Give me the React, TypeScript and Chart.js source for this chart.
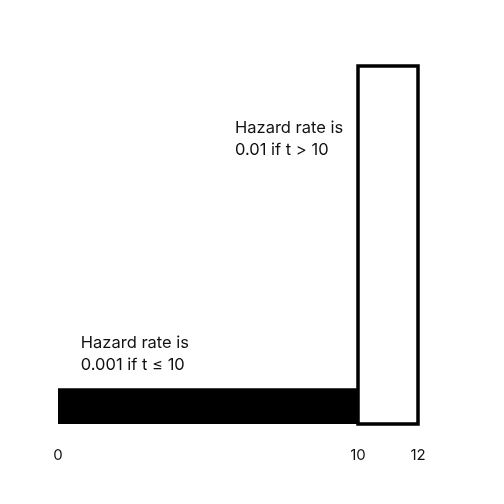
import React, { useEffect, useRef } from "react";
import { Chart, registerables, Plugin } from "chart.js";

Chart.register(...registerables);

// piecewise-constant hazard: breakpoints on t, one rate per interval
const breakpoints = [0, 10, 12];
const hazardRates = [0.001, 0.01];
const tickValues = [0, 10, 12];

// annotation text and where it sits (data coordinates, left edge / first line centre)
const noteLines = [
  ["Hazard rate is", "0.001 if t \u2264 10"],
  ["Hazard rate is", "0.01 if t > 10"],
];
const noteX = [0.76, 5.9];
const noteY = [0.00225, 0.00828];

const FONT = "Inter, 'Liberation Sans', sans-serif";

const notesPlugin: Plugin<"scatter"> = {
  id: "notes",
  afterDatasetsDraw(chart) {
    const { ctx, scales } = chart;
    ctx.save();
    ctx.fillStyle = "#111";
    ctx.font = `16.5px ${FONT}`;
    ctx.textBaseline = "middle";
    ctx.textAlign = "left";
    noteLines.forEach((lines, i) => {
      const x = scales.x.getPixelForValue(noteX[i]);
      const y = scales.y.getPixelForValue(noteY[i]);
      lines.forEach((line, j) => ctx.fillText(line, x, y + j * 22));
    });
    ctx.restore();
  },
};

export default function App() {
  const canvasRef = useRef<HTMLCanvasElement>(null);
  const chartRef = useRef<Chart | null>(null);

  useEffect(() => {
    if (!canvasRef.current) return;
    chartRef.current?.destroy();

    const [t0, t1, t2] = breakpoints;
    const [low, high] = hazardRates;

    chartRef.current = new Chart(canvasRef.current, {
      type: "scatter",
      data: {
        datasets: [
          {
            // t <= 10 block, solid black
            data: [
              { x: t0, y: 0 },
              { x: t0, y: low },
              { x: t1, y: low },
              { x: t1, y: 0 },
            ],
            showLine: true,
            fill: "origin",
            backgroundColor: "#000",
            borderColor: "#000",
            borderWidth: 0,
            pointRadius: 0,
            clip: false,
          },
          {
            // t > 10 block, white with black outline
            data: [
              { x: t1, y: 0 },
              { x: t1, y: high },
              { x: t2, y: high },
              { x: t2, y: 0 },
              { x: t1, y: 0 },
            ],
            showLine: true,
            fill: "origin",
            backgroundColor: "#fff",
            borderColor: "#000",
            borderWidth: 3.5,
            borderJoinStyle: "miter",
            borderCapStyle: "square",
            pointRadius: 0,
            clip: false,
          },
        ],
      },
      options: {
        responsive: true,
        maintainAspectRatio: false,
        animation: false,
        layout: { padding: { left: 58, right: 86, top: 66, bottom: 18 } },
        plugins: {
          legend: { display: false },
          tooltip: { enabled: false },
        },
        scales: {
          x: {
            type: "linear",
            min: t0,
            max: t2,
            afterBuildTicks: (axis) => {
              axis.ticks = tickValues.map((v) => ({ value: v }));
            },
            grid: { display: false, drawTicks: false },
            border: { display: false },
            ticks: {
              color: "#111",
              padding: 22,
              font: { family: FONT, size: 15 },
            },
          },
          y: {
            display: false,
            min: 0,
            max: high,
          },
        },
      },
      plugins: [notesPlugin],
    });

    return () => {
      chartRef.current?.destroy();
    };
  }, []);

  return (
    <div
      style={{
        position: "absolute",
        left: 0,
        top: 0,
        width: 504,
        height: 504,
        background: "#fff",
      }}
    >
      <canvas
        ref={canvasRef}
        role="img"
        aria-label="Piecewise constant hazard rate"
      />
    </div>
  );
}
